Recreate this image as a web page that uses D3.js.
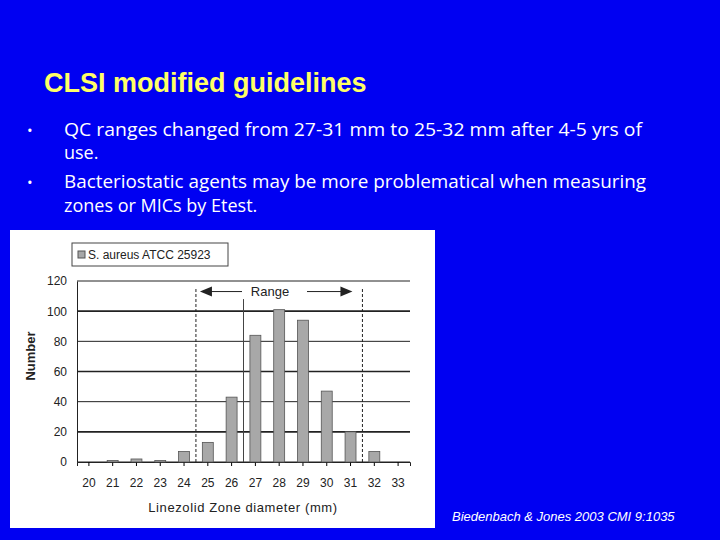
<!DOCTYPE html><html><head><meta charset="utf-8">
<script src="https://cdn.jsdelivr.net/npm/d3@7"></script>
<style>body{margin:0;background:#0000f2;}svg{display:block}</style></head><body>
<svg id="s" width="720" height="540"></svg>
<script>
const categories=["20","21","22","23","24","25","26","27","28","29","30","31","32","33"];
const counts=[0,1,2,1,7,13,43,84,101,94,47,20,7,0];
const yTicks=[0,20,40,60,80,100,120];
const rangeBounds=["25","31"];
const refLine={cat:"27",value:108};
const svg=d3.select("#s");
svg.append("rect").attr("width",720).attr("height",540).attr("fill","#0000f2");
svg.append("text").attr("x",44).attr("y",92).attr("fill","#ffff66").attr("font-family","Liberation Sans").attr("font-weight","bold").attr("font-size",27).text("CLSI modified guidelines");
const tf="Open Sans";
[[136,"QC ranges changed from 27-31 mm to 25-32 mm after 4-5 yrs of",true,578],[159,"use.",false,0],[188,"Bacteriostatic agents may be more problematical when measuring",true,582],[212,"zones or MICs by Etest.",false,0]].forEach(([y,t,b,L])=>{
 if(b) svg.append("text").attr("x",27).attr("y",y).attr("fill","#fff").attr("font-family",tf).attr("font-size",15).text("•");
 const e=svg.append("text").attr("x",64).attr("y",y).attr("fill","#fff").attr("font-family",tf).attr("font-size",18).text(t);
 if(L) e.attr("textLength",L).attr("lengthAdjust","spacingAndGlyphs");
});
svg.append("rect").attr("x",10).attr("y",230).attr("width",425).attr("height",298).attr("fill","#fff");
const x=d3.scaleBand().domain(categories).range([77,410]);
const y=d3.scaleLinear().domain([0,120]).range([462,281]);
const g=svg.append("g");
yTicks.forEach(t=>{g.append("line").attr("x1",77).attr("x2",410).attr("y1",y(t)).attr("y2",y(t)).attr("stroke","#222").attr("stroke-width",t%40==20&&t>0?1.6:1);});
g.append("g").attr("transform","translate(77,0)").call(d3.axisLeft(y).tickValues(yTicks).tickSize(0).tickPadding(10)).call(a=>{a.select(".domain").attr("stroke","#222");a.selectAll("text").attr("font-family","Liberation Sans").attr("font-size",12).attr("fill","#222");});
g.append("g").attr("transform","translate(0,462)").call(d3.axisBottom(x).tickSize(4).tickPadding(12)).call(a=>{a.select(".domain").attr("stroke","#222");a.selectAll("text").attr("font-family","Liberation Sans").attr("font-size",12).attr("fill","#222");});
const bw=x.bandwidth()*0.46;
g.selectAll(".b").data(counts).join("rect").attr("x",(d,i)=>x(categories[i])+(x.bandwidth()-bw)/2).attr("y",d=>y(d)).attr("width",bw).attr("height",d=>462-y(d)).attr("fill","#a8a8a8").attr("stroke","#555").attr("stroke-width",0.8);
const lx=x(rangeBounds[0]), rx=x(rangeBounds[1])+x.bandwidth();
[lx,rx].forEach(v=>g.append("line").attr("x1",v).attr("x2",v).attr("y1",y(0)).attr("y2",y(115)).attr("stroke","#222").attr("stroke-dasharray","3,2"));
g.append("line").attr("x1",x(refLine.cat)).attr("x2",x(refLine.cat)).attr("y1",y(0)).attr("y2",y(refLine.value)).attr("stroke","#444");
const ay=y(113);
g.append("line").attr("x1",lx+14).attr("x2",242).attr("y1",ay).attr("y2",ay).attr("stroke","#222");
g.append("line").attr("x1",307).attr("x2",rx-20).attr("y1",ay).attr("y2",ay).attr("stroke","#222");
g.append("path").attr("d",`M${lx+4},${ay}l12,-5v10z`).attr("fill","#222");
g.append("path").attr("d",`M${rx-10},${ay}l-12,-5v10z`).attr("fill","#222");
g.append("text").attr("x",270).attr("y",ay+4).attr("text-anchor","middle").attr("font-family","Liberation Sans").attr("font-size",13).attr("fill","#222").text("Range");
g.append("text").attr("transform","translate(35,356) rotate(-90)").attr("text-anchor","middle").attr("font-family","Liberation Sans").attr("font-weight","bold").attr("font-size",13).attr("fill","#222").text("Number");
g.append("text").attr("x",243).attr("y",512).attr("text-anchor","middle").attr("font-family","Liberation Sans").attr("font-size",13).attr("fill","#222").attr("letter-spacing",0.6).text("Linezolid Zone diameter (mm)");
g.append("rect").attr("x",72).attr("y",243).attr("width",156).attr("height",23).attr("fill","#fff").attr("stroke","#444");
g.append("rect").attr("x",78).attr("y",251).attr("width",7).attr("height",7).attr("fill","#a8a8a8").attr("stroke","#555");
g.append("text").attr("x",88).attr("y",259).attr("font-family","Liberation Sans").attr("font-size",12).attr("fill","#222").text("S. aureus ATCC 25923");
svg.append("text").attr("x",452).attr("y",521).attr("fill","#fff").attr("font-family","Liberation Sans").attr("font-style","italic").attr("font-size",13).text("Biedenbach & Jones 2003 CMI 9:1035");
</script></body></html>
